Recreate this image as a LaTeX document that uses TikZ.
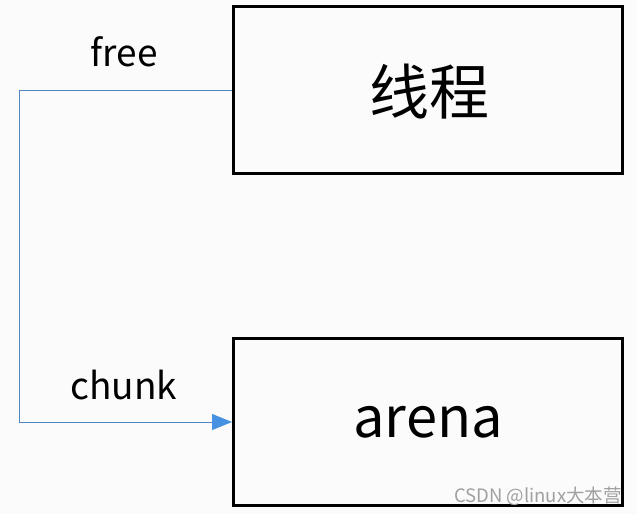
\documentclass[tikz,border=0pt]{standalone}
\usepackage{fontspec}
\setmainfont{Noto Sans CJK SC}
\usetikzlibrary{arrows.meta}
\definecolor{bg}{RGB}{251,251,251}
\definecolor{linkline}{RGB}{80,135,195}
\definecolor{linktip}{RGB}{70,145,225}
\definecolor{wm}{RGB}{160,160,160}
\tikzset{
  box/.style={draw=black, line width=3pt, minimum width=389pt, minimum height=167pt, inner sep=0pt},
  big/.style={font=\fontsize{60}{62}\selectfont},
  lbl/.style={font=\fontsize{37}{40}\selectfont, inner sep=0pt},
  link/.style={draw=linkline, line width=1pt, -{Triangle[length=20pt,width=16pt,fill=linktip,color=linktip]}}
}
\begin{document}
\begin{tikzpicture}[x=1pt,y=-1pt]
\fill[bg] (0,0) rectangle (637,514);
\useasboundingbox (0,0) rectangle (637,514);
\node[box] (thread) at (428,90) {};
\node[big] (threadtxt) at (429,92) {线程};
\node[box] (arena) at (428,422) {};
\node[big, font=\fontsize{56}{60}\selectfont] (arenatxt) at (428,422) {arena};
\node[lbl] (free) at (124,52) {free};
\node[lbl] (chunk) at (124,385) {chunk};
\coordinate (corner) at (19,90);
\draw[link] (thread.west) -- (corner) |- (arena.west);
\node[font=\fontsize{18.5}{20}\selectfont, text=wm, anchor=south east, inner sep=0pt] (wmk) at (622,506) {CSDN @linux大本营};
\end{tikzpicture}
\end{document}
